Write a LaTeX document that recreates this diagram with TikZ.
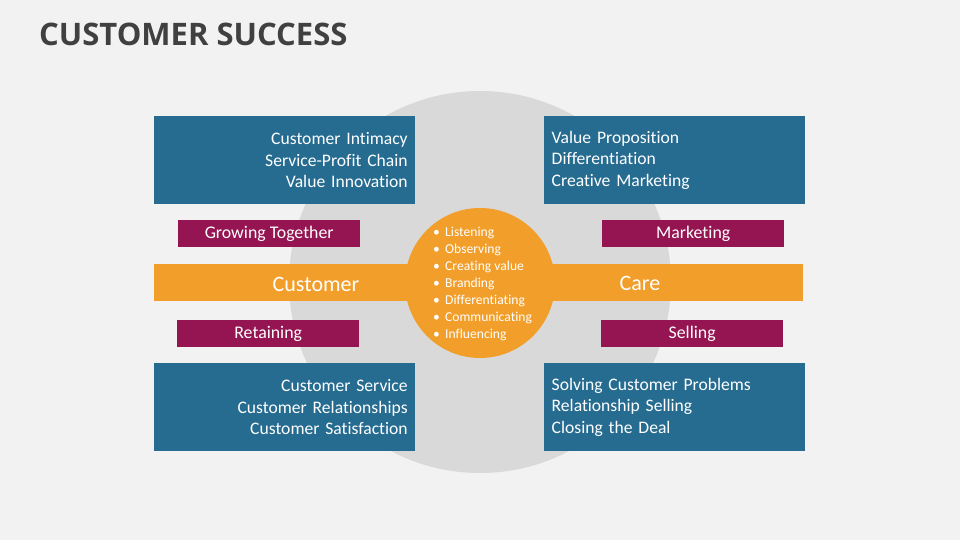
\documentclass[tikz,border=0pt]{standalone}
\usepackage{fontspec}
\setmainfont{Carlito}[Ligatures=NoCommon]
\newfontfamily\headfont{Open Sans}
\usepackage{tikz}
\usetikzlibrary{positioning,calc}

\definecolor{pageGray}{HTML}{F2F2F2}
\definecolor{ringGray}{HTML}{D9D9D9}
\definecolor{boxBlue}{HTML}{266C91}
\definecolor{tagRed}{HTML}{951552}
\definecolor{barOrange}{HTML}{F29E2A}
\definecolor{headGray}{HTML}{404040}

\tikzset{
	bluebox/.style={fill=boxBlue, text=white, minimum width=261pt, minimum height=88pt, text width=246pt, inner xsep=7.5pt, font=\fontsize{17.6}{21.6}\selectfont},
	tag/.style={fill=tagRed, text=white, minimum width=182pt, minimum height=27pt, inner sep=0pt, font=\fontsize{17.8}{20}\selectfont},
	barlabel/.style={text=white, font=\fontsize{22}{26}\selectfont},
}

\newcommand{\blt}[1]{\makebox[12pt][l]{\textbullet}#1}

\begin{document}
\begin{tikzpicture}[x=1pt,y=-1pt]
		\fill[pageGray] (0,0) rectangle (960,540);
		\useasboundingbox (0,0) rectangle (960,540);
		\node[anchor=west, text=headGray, font=\headfont\bfseries\fontsize{31}{36}\selectfont, inner sep=0pt] (title) at (39,34) {CUSTOMER SUCCESS};
		% background ring and the orange cross
		\coordinate (c) at (480,282);
		\fill[ringGray] (c) circle (191);
		\fill[barOrange] (154,264) rectangle (803,301);
		\fill[barOrange] (480,283) circle (75);
		% four topic boxes
		\node[bluebox, anchor=north west, align=right] (tl) at (154,116) {Customer Intimacy\\Service-Profit Chain\\Value Innovation};
		\node[bluebox, anchor=north west, align=left] (tr) at (544,116) {Value Proposition\\Differentiation\\Creative Marketing};
		\node[bluebox, anchor=north west, align=right] (bl) at (154,363) {Customer Service\\Customer Relationships\\Customer Satisfaction};
		\node[bluebox, anchor=north west, align=left] (br) at (544,363) {Solving Customer Problems\\Relationship Selling\\Closing the Deal};
		% tags
		\node[tag, anchor=north west] (grow) at (178,220) {Growing Together};
		\node[tag, anchor=north west] (mark) at (602,220) {Marketing};
		\node[tag, anchor=north west] (keep) at (177,320) {Retaining};
		\node[tag, anchor=north west] (sell) at (601,320) {Selling};
		% bar labels and list
		\node[barlabel] (cust) at (316,284) {Customer};
		\node[barlabel] (care) at (640,283) {Care};
		\node[anchor=west, text=white, align=left, inner sep=0pt, font=\fontsize{13.6}{16.9}\selectfont] (list) at (433,284)
			{\blt{Listening}\\\blt{Observing}\\\blt{Creating value}\\\blt{Branding}\\\blt{Differentiating}\\\blt{Communicating}\\\blt{Influencing}};
	\end{tikzpicture}
\end{document}
